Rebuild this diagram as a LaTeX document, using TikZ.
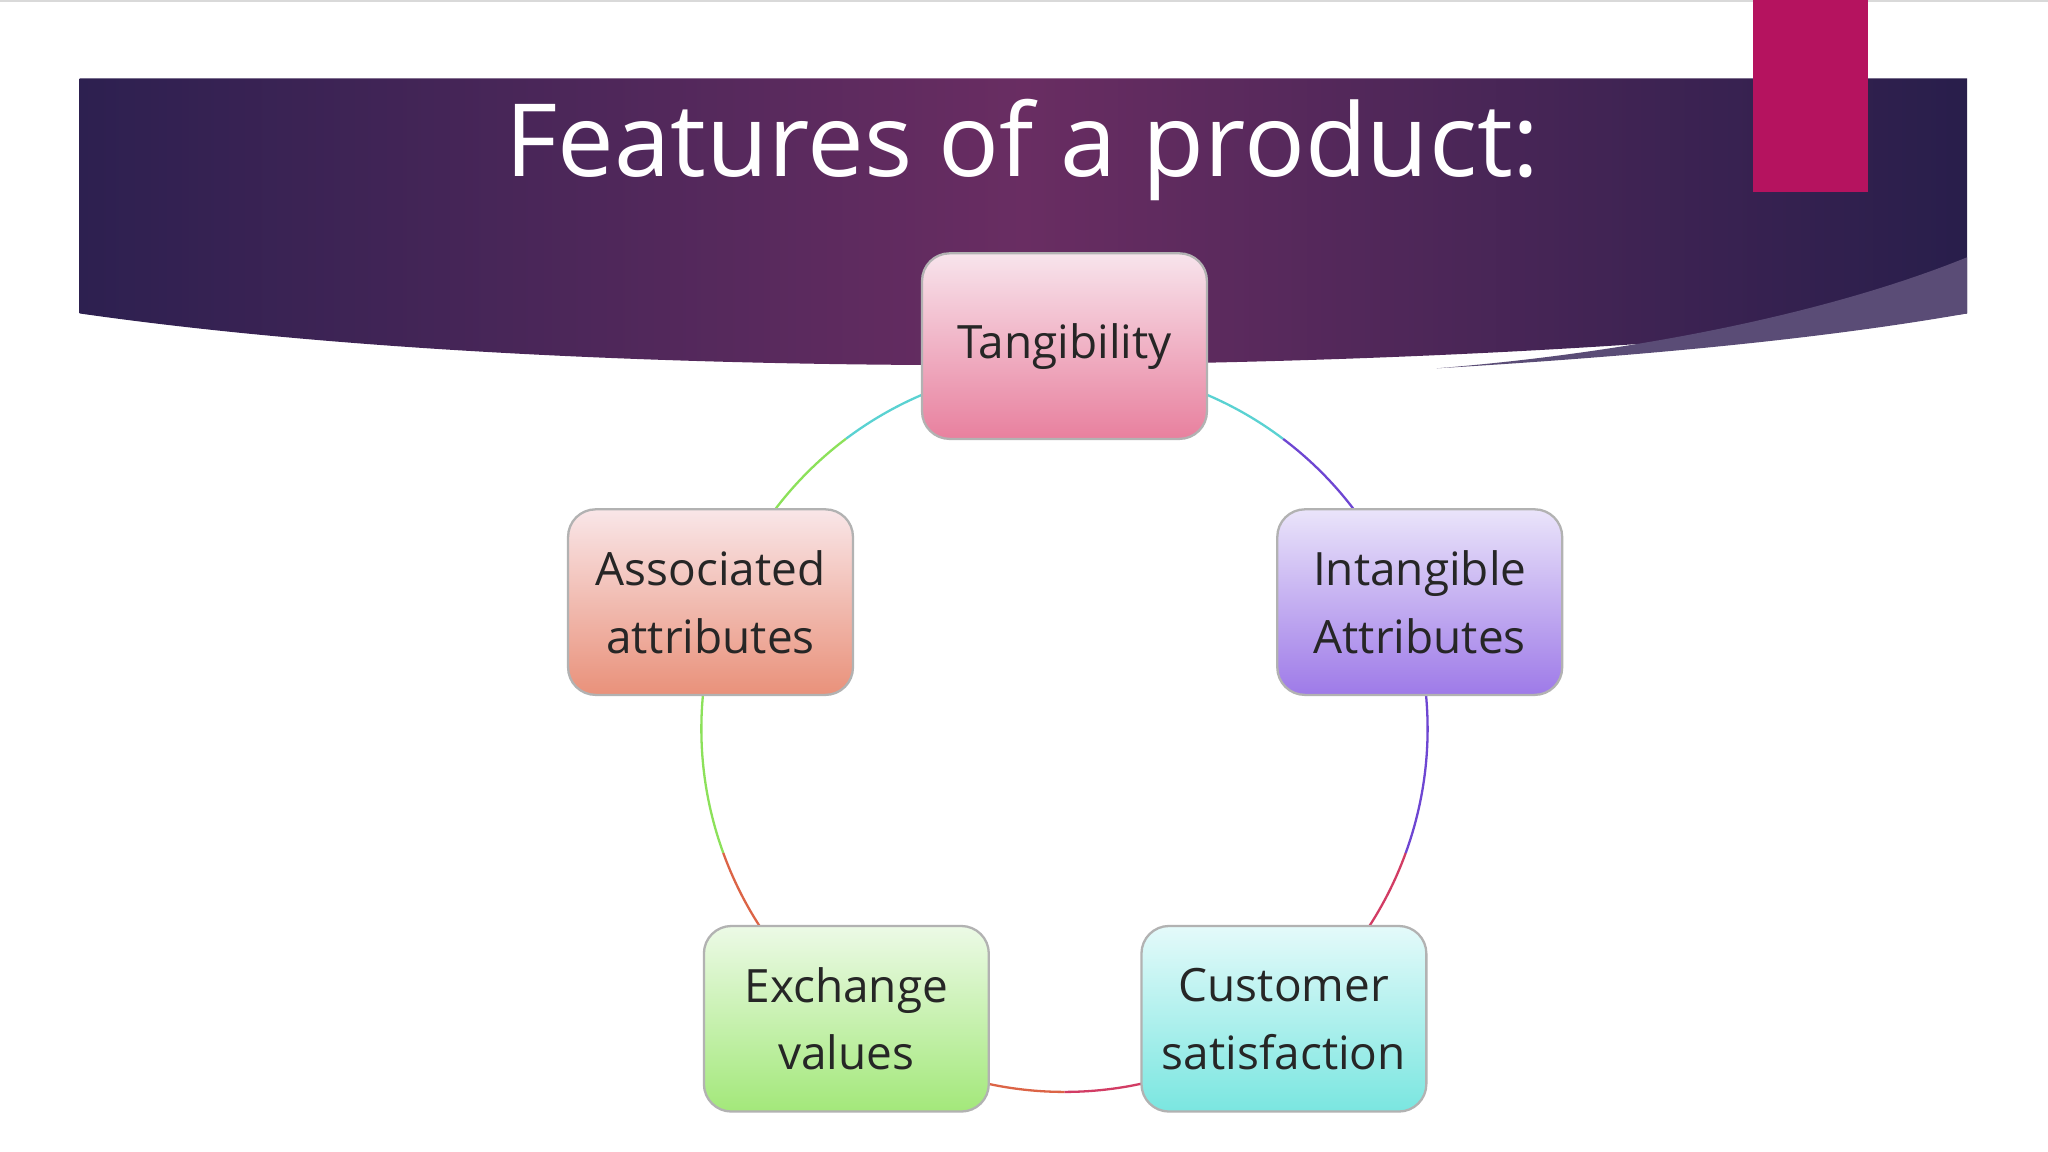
\documentclass[tikz,border=0pt]{standalone}
\usepackage{fontspec}
\setmainfont{Open Sans}
\definecolor{bnA}{RGB}{45,32,80}
\definecolor{bnB}{RGB}{40,30,75}
\definecolor{bnM}{RGB}{105,45,98}
\definecolor{bnL}{RGB}{90,76,118}
\definecolor{mag}{RGB}{181,19,95}
\definecolor{arT}{RGB}{210,60,100}
\definecolor{arI}{RGB}{110,70,210}
\definecolor{arC}{RGB}{90,210,210}
\definecolor{arE}{RGB}{140,225,90}
\definecolor{arA}{RGB}{220,100,70}
\definecolor{tT}{RGB}{248,228,236}\definecolor{bT}{RGB}{232,128,158}
\definecolor{tA}{RGB}{249,230,232}\definecolor{bA}{RGB}{233,145,122}
\definecolor{tI}{RGB}{234,228,250}\definecolor{bI}{RGB}{158,122,232}
\definecolor{tE}{RGB}{236,250,230}\definecolor{bE}{RGB}{163,232,122}
\definecolor{tC}{RGB}{228,250,250}\definecolor{bC}{RGB}{122,230,224}
\begin{document}
\begin{tikzpicture}[x=0.01cm,y=-0.01cm,
  box/.style={draw=black!30,line width=0.5pt,rounded corners=6pt,minimum width=2.18cm,minimum height=1.42cm,align=center,font=\fontsize{10}{14.8}\selectfont,text=black!85},
  arcline/.style={line width=0.5pt}]
\useasboundingbox (0,0) rectangle (1568,882);
\fill[white] (0,0) rectangle (1568,882);
\draw[black!15] (0,0.5) -- (1568,0.5);
\shade[left color=bnA,right color=bnB,middle color=bnM]
  (61,60) -- (1506,60) -- (1506,240) .. controls (1150,285) and (480,300) .. (61,240) -- cycle;
\fill[bnL] (1506,197) .. controls (1400,240) and (1250,270) .. (1100,282) .. controls (1300,270) and (1420,255) .. (1506,240) -- cycle;
\fill[mag] (1342,0) rectangle (1430,147);
\node[text=white,font=\fontsize{22}{26}\selectfont] (title) at (783,115) {Features of a product:};
\coordinate (C) at (815,558);
\def\r{278}
\draw[arcline,arT] ([shift={(90:\r)}]C) arc (90:20:\r);
\draw[arcline,arI] ([shift={(20:\r)}]C) arc (20:-53:\r);
\draw[arcline,arC] ([shift={(-53:\r)}]C) arc (-53:-127:\r);
\draw[arcline,arE] ([shift={(-127:\r)}]C) arc (-127:-200:\r);
\draw[arcline,arA] ([shift={(160:\r)}]C) arc (160:90:\r);
\node[box,top color=tT,bottom color=bT] (t) at (815,265) {Tangibility};
\node[box,top color=tA,bottom color=bA] (a) at (544,461) {Associated\\attributes};
\node[box,top color=tI,bottom color=bI] (i) at (1087,461) {Intangible\\Attributes};
\node[box,top color=tE,bottom color=bE] (e) at (648,780) {Exchange\\values};
\node[box,top color=tC,bottom color=bC] (c) at (983,780) {Customer\\satisfaction};
\end{tikzpicture}
\end{document}
